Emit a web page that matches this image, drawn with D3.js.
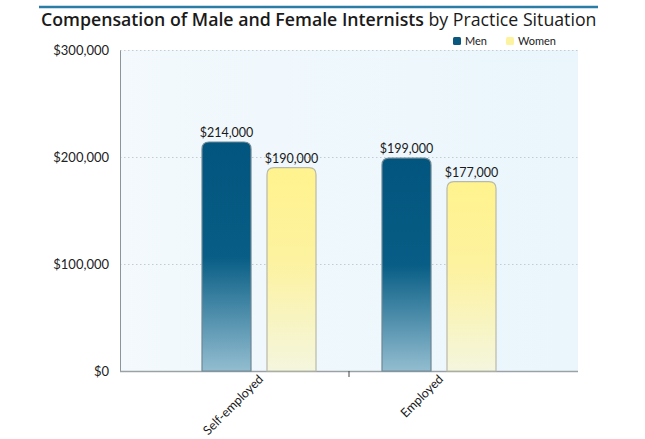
<!DOCTYPE html>
<html><head><meta charset="utf-8">
<script src="https://cdn.jsdelivr.net/npm/d3@7"></script>
<style>body{margin:0;background:#fff;}svg{display:block;font-family:Lato,"Open Sans",sans-serif;}</style>
</head><body><svg id="c" width="645" height="439"></svg>
<script>
const categories = ["Self-employed", "Employed"];
const seriesNames = ["Men", "Women"];
const men = [214000, 199000];
const women = [190000, 177000];
const yTicks = [0, 100000, 200000, 300000];

const svg = d3.select("#c");
const L = 120, R = 578, T = 50, B = 371;
const y = d3.scaleLinear().domain([0, 300000]).range([B, T]);
const x0 = d3.scalePoint().domain(categories).range([259, 439]);
const x1 = d3.scaleBand().domain(seriesNames).range([-57, 57]).paddingInner(0.246).paddingOuter(0);
const fmt = v => "$" + d3.format(",")(v);

const defs = svg.append("defs");
const bg = defs.append("linearGradient").attr("id","bg").attr("x1",0).attr("x2",1).attr("y1",0).attr("y2",0);
bg.append("stop").attr("offset","0").attr("stop-color","#f3f9fd");
bg.append("stop").attr("offset","1").attr("stop-color","#eaf6fc");
const gm = defs.append("linearGradient").attr("id","gm").attr("x1",0).attr("x2",0).attr("y1",0).attr("y2",1);
gm.append("stop").attr("offset","0").attr("stop-color","#02557e");
gm.append("stop").attr("offset","0.5").attr("stop-color","#075d85");
gm.append("stop").attr("offset","1").attr("stop-color","#93bdd0");
const gw = defs.append("linearGradient").attr("id","gw").attr("x1",0).attr("x2",0).attr("y1",0).attr("y2",1);
gw.append("stop").attr("offset","0").attr("stop-color","#fff38e");
gw.append("stop").attr("offset","0.45").attr("stop-color","#fdf29f");
gw.append("stop").attr("offset","1").attr("stop-color","#f4f6de");

// top rule
svg.append("line").attr("x1",39).attr("x2",598).attr("y1",7).attr("y2",7).attr("stroke","#2a7ea6").attr("stroke-width",2.5);

// title
const title = svg.append("text").attr("x",41).attr("y",26).attr("font-size",17).attr("fill","#1a1a1a")
  .attr("font-family","'Open Sans',sans-serif");
title.append("tspan").attr("font-weight","600").text("Compensation of Male and Female Internists");
title.append("tspan").attr("font-weight","normal").text(" by Practice Situation");
const tw = title.node().getComputedTextLength();
title.attr("font-size", 17 * 556 / tw);

// plot background
svg.append("rect").attr("x",L).attr("y",T).attr("width",R-L).attr("height",B-T).attr("fill","url(#bg)");

// gridlines
svg.append("g").selectAll("line").data(yTicks.filter(d=>d>0)).join("line")
  .attr("x1",L).attr("x2",R).attr("y1",d=>y(d)+0.5).attr("y2",d=>y(d)+0.5)
  .attr("stroke","#c3ccd2").attr("stroke-dasharray","1.5,2.5").attr("stroke-width",1);

// y axis
const ya = svg.append("g").attr("transform",`translate(${L},0)`).call(d3.axisLeft(y).tickValues(yTicks).tickFormat(fmt).tickSize(0).tickPadding(11));
ya.select(".domain").attr("stroke","#8c959a");
ya.selectAll("text").attr("font-size",13).attr("fill","#222").attr("font-family","Lato,sans-serif");

// x axis
svg.append("line").attr("x1",L).attr("x2",R).attr("y1",B+0.5).attr("y2",B+0.5).attr("stroke","#9aa2a6").attr("stroke-width",1.5);
svg.append("line").attr("x1",(L+R)/2).attr("x2",(L+R)/2).attr("y1",B).attr("y2",B+6).attr("stroke","#444");

const data = categories.map((c,i)=>({cat:c, vals:[{s:"Men",v:men[i]},{s:"Women",v:women[i]}]}));
const r = 7;
function barPath(xl, w, yt, yb){
  return `M${xl},${yb}V${yt+r}Q${xl},${yt} ${xl+r},${yt}H${xl+w-r}Q${xl+w},${yt} ${xl+w},${yt+r}V${yb}Z`;
}
const groups = svg.append("g").selectAll("g").data(data).join("g").attr("transform",d=>`translate(${x0(d.cat)},0)`);
groups.selectAll("path").data(d=>d.vals).join("path")
  .attr("d",d=>barPath(x1(d.s), x1.bandwidth(), y(d.v), B))
  .attr("fill",d=>d.s==="Men"?"url(#gm)":"url(#gw)")
  .attr("stroke",d=>d.s==="Men"?"#6f8894":"#b9b9a8").attr("stroke-width",1.2);
groups.selectAll("text.v").data(d=>d.vals).join("text").attr("class","v")
  .attr("x",d=>x1(d.s)+x1.bandwidth()/2).attr("y",d=>y(d.v)-5)
  .attr("text-anchor","middle").attr("font-size",12.5).attr("fill","#1a1a1a").text(d=>fmt(d.v));

// category labels
svg.append("g").selectAll("text").data(categories).join("text")
  .attr("transform",d=>`translate(${x0(d)+5},${B+9}) rotate(-45)`)
  .attr("text-anchor","end").attr("font-size",12.5).attr("fill","#1a1a1a").text(d=>d);

// legend
const lg = [{s:"Men",c:"#0b587e",x:453},{s:"Women",c:"#fdf39e",x:506}];
const lgs = svg.append("g").selectAll("g").data(lg).join("g").attr("transform",d=>`translate(${d.x},37)`);
lgs.append("rect").attr("width",8).attr("height",8).attr("rx",1.5).attr("fill",d=>d.c);
lgs.append("text").attr("x",12).attr("y",8).attr("font-size",11).attr("fill","#222").text(d=>d.s);
</script></body></html>
